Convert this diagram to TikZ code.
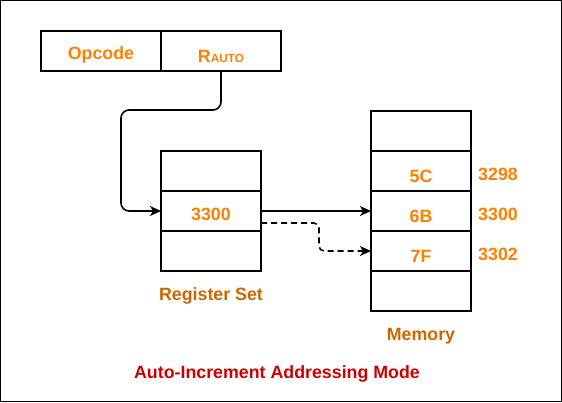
\documentclass[tikz,border=0pt]{standalone}
\usepackage{fontspec}
\setmainfont{Liberation Sans}
\usetikzlibrary{arrows.meta,positioning}
\definecolor{valorange}{RGB}{255,128,0}
\definecolor{lblorange}{RGB}{204,102,0}
\definecolor{titlered}{RGB}{204,0,0}
\tikzset{
  cell/.style={draw,line width=1.6pt,minimum width=100pt,minimum height=40pt,inner sep=0pt,outer sep=0pt},
  field/.style={cell,minimum width=120pt},
  val/.style={text=valorange,font=\bfseries\fontsize{17.8}{21}\selectfont,inner sep=0pt},
  lbl/.style={val,text=lblorange},
  link/.style={line width=1.6pt,-{Stealth[length=11pt,width=10pt,inset=3pt]}}
}

\begin{document}
\begin{tikzpicture}[x=1pt,y=-1pt]
\useasboundingbox (0,0) rectangle (562,402);
\draw[line width=1pt] (0.5,0.5) rectangle (561.5,401.5);
% instruction fields
\node[field] (opcode) at (101,51) {};
\node[field,right=0pt of opcode] (rauto) {};
\node[val] (opname) at ([yshift=-3.5pt]opcode.center) {Opcode};
\node[val] (rname) at ([yshift=-5.5pt]rauto.center) {R{\fontsize{11.8}{14}\selectfont AUTO}};
% register set
\node[cell] (reg1) at (211,171) {};
\node[cell,below=0pt of reg1] (reg2) {};
\node[cell,below=0pt of reg2] (reg3) {};
\node[val] (regval) at ([yshift=-3.5pt]reg2.center) {3300};
\node[lbl] (reglbl) at (211,296) {Register Set};
% memory
\node[cell] (mem1) at (421,131) {};
\node[cell,below=0pt of mem1] (mem2) {};
\node[cell,below=0pt of mem2] (mem3) {};
\node[cell,below=0pt of mem3] (mem4) {};
\node[cell,below=0pt of mem4] (mem5) {};
\node[val] (v5c) at ([yshift=-5.5pt]mem2.center) {5C};
\node[val] (v6b) at ([yshift=-5.5pt]mem3.center) {6B};
\node[val] (v7f) at ([yshift=-5.5pt]mem4.center) {7F};
\node[val,anchor=west] (a3298) at ([xshift=7pt,yshift=-3.5pt]mem2.east) {3298};
\node[val,anchor=west] (a3300) at ([xshift=7pt,yshift=-3.5pt]mem3.east) {3300};
\node[val,anchor=west] (a3302) at ([xshift=7pt,yshift=-3.5pt]mem4.east) {3302};
\node[lbl] (memlbl) at (421,336) {Memory};
% connectors
\coordinate (bend) at (121,110);
\draw[link,rounded corners=8pt] (rauto.south) |- (bend) |- (reg2.west);
\draw[link] (reg2.east) -- (mem3.west);
\draw[link,dash pattern=on 6pt off 4pt,rounded corners=5pt] ([yshift=-12pt]reg2.east) -- ++(58,0) |- (mem4.west);
\node[val,text=titlered] (title) at (277,374) {Auto-Increment Addressing Mode};
\end{tikzpicture}
\end{document}
